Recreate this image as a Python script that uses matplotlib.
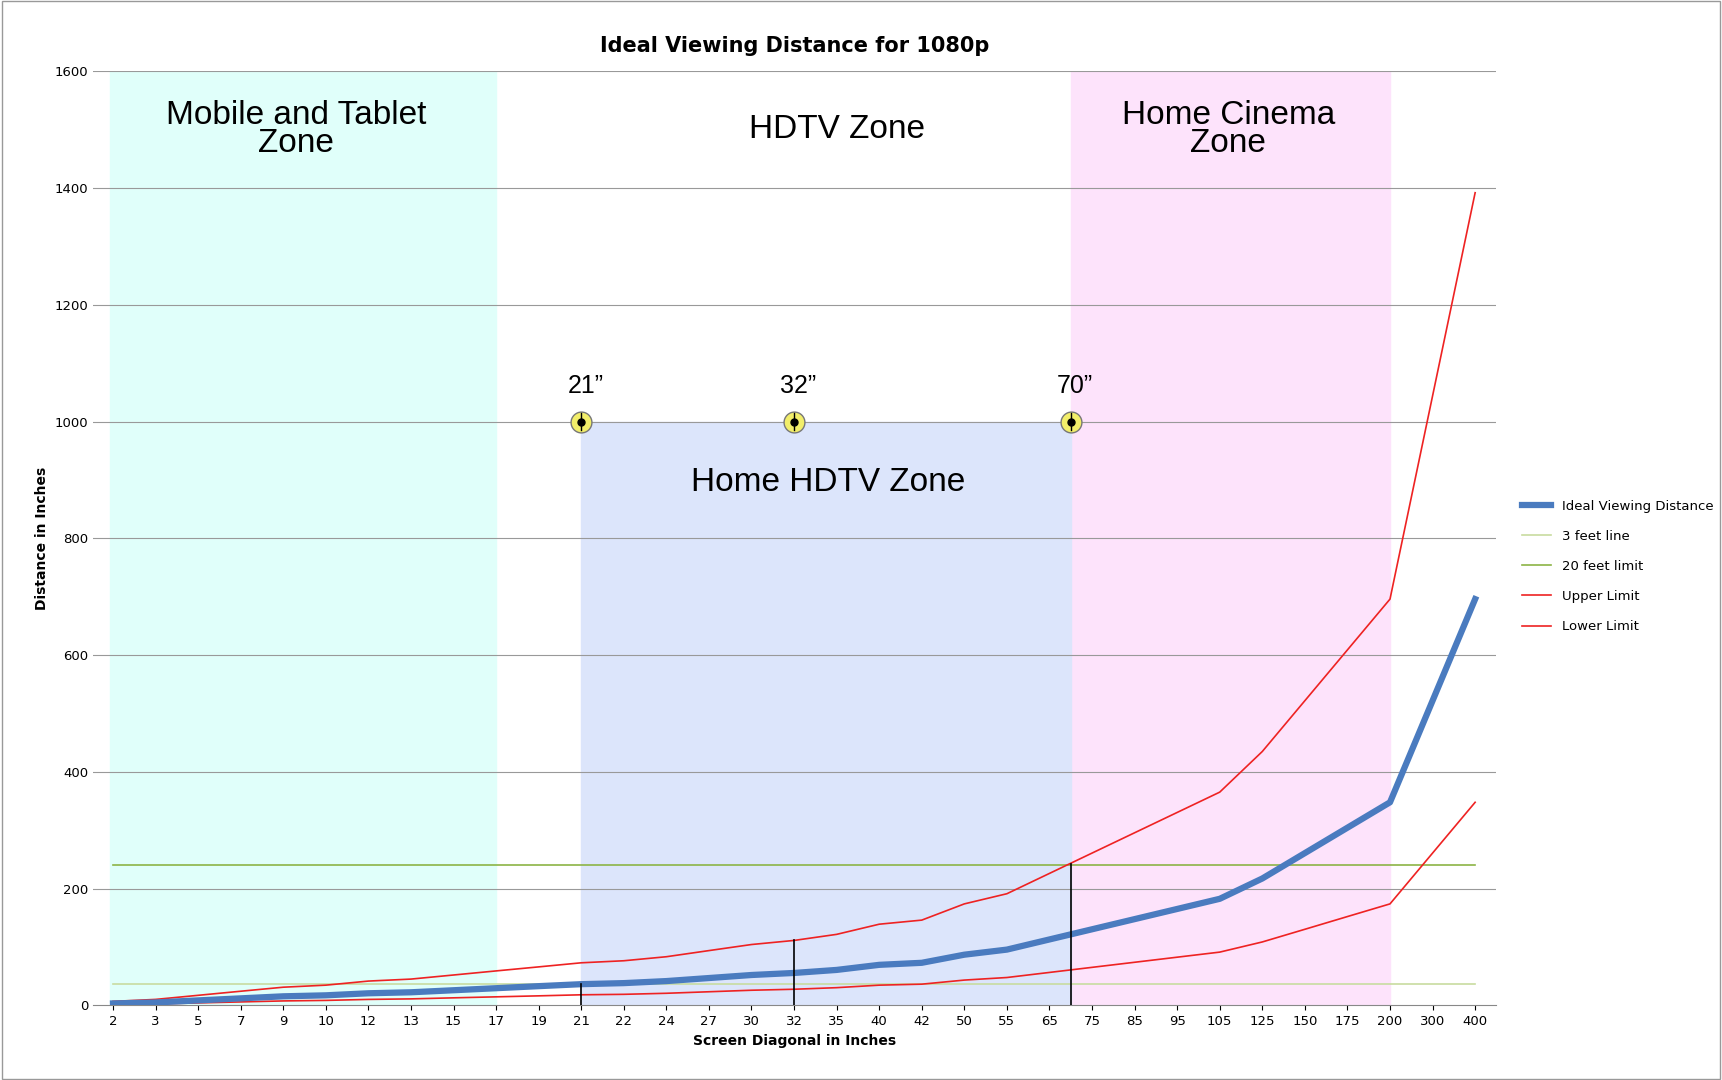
import matplotlib
matplotlib.use("Agg")
import matplotlib.pyplot as plt
import numpy as np

sizes = ["2","3","5","7","9","10","12","13","15","17","19","21","22","24","27","30","32","35","40","42","50","55","65","75","85","95","105","125","150","175","200","300","400"]
ideal = [3.5,5.2,8.7,12.2,15.7,17.4,20.9,22.6,26.1,29.6,33.1,36.5,38.3,41.8,47.0,52.2,55.7,60.9,69.6,73.1,87.0,95.7,113.1,130.5,147.9,165.3,182.7,217.5,261,304.5,348,522,696]
upper = [7,10.4,17.4,24.4,31.3,34.8,41.8,45.2,52.2,59.2,66.1,73.1,76.6,83.5,94,104.4,111.4,121.8,139.2,146.2,174,191.4,226.2,261,295.8,330.6,365.4,435,522,609,696,1044,1392]
lower = [1.7,2.6,4.4,6.1,7.8,8.7,10.4,11.3,13.1,14.8,16.5,18.3,19.1,20.9,23.5,26.1,27.8,30.5,34.8,36.5,43.5,47.9,56.6,65.3,74,82.7,91.4,108.8,130.5,152.3,174,261,348]
three_feet = [36]*len(sizes)
twenty_feet = [240]*len(sizes)

fig = plt.figure(figsize=(17.22,10.8), dpi=100)
fig.patches.append(plt.Rectangle((0.001,0.001),0.998,0.998,transform=fig.transFigure,fill=False,ec="#999999",lw=1))
ax = fig.add_axes([0.054,0.069,0.815,0.865])
x = np.arange(len(sizes))
ax.set_xlim(-0.47,32.5); ax.set_ylim(0,1600)

ax.axvspan(-0.08,9,color="#e0fffa",zorder=0)
ax.axvspan(22.5,30,color="#fde3fb",zorder=0)
ax.fill_between([11,22.5],0,1000,color="#dce5fb",zorder=0.5)
for y in range(200,1601,200):
    ax.axhline(y,color="#999999",lw=0.8,zorder=1)

ax.plot(x,three_feet,color="#c8dca0",lw=1.2,label="3 feet line",zorder=2)
ax.plot(x,twenty_feet,color="#8cb446",lw=1.2,label="20 feet limit",zorder=2)
ax.plot(x,upper,color="#ee2222",lw=1.2,label="Upper Limit",zorder=3)
ax.plot(x,lower,color="#ee2222",lw=1.2,label="Lower Limit",zorder=3)
ax.plot(x,ideal,color="#4a7bbf",lw=4.5,label="Ideal Viewing Distance",zorder=4)

for xi,yt,lab in [(11,36.5,"21\u201d"),(16,111.4,"32\u201d"),(22.5,243,"70\u201d")]:
    ax.plot([xi,xi],[0,yt],color="black",lw=1.2,zorder=5)
    ax.plot(xi,1000,'o',ms=15,mfc="#f2ee6a",mec="#777777",zorder=6)
    ax.plot([xi,xi],[985,1015],color="black",lw=1,zorder=7)
    ax.plot(xi,1000,'o',ms=5,color="black",zorder=8)
    ax.text(xi+0.1,1040,lab,ha="center",va="bottom",fontsize=18,family="Liberation Sans")

fs = 24
ax.text(4.3,1500,"Mobile and Tablet\nZone",ha="center",va="center",fontsize=fs,linespacing=0.9,family="Liberation Sans")
ax.text(17,1500,"HDTV Zone",ha="center",va="center",fontsize=fs,family="Liberation Sans")
ax.text(26.2,1500,"Home Cinema\nZone",ha="center",va="center",fontsize=fs,linespacing=0.9,family="Liberation Sans")
ax.text(16.8,895,"Home HDTV Zone",ha="center",va="center",fontsize=fs,family="Liberation Sans")

ax.set_xticks(x); ax.set_xticklabels(sizes,fontsize=9.5)
ax.set_yticks(range(0,1601,200)); ax.tick_params(labelsize=9.5)
for s in ["top","right","left"]:
    ax.spines[s].set_visible(False)
ax.spines["bottom"].set_color("#888888")
ax.tick_params(axis="y",length=0)
ax.set_xlabel("Screen Diagonal in Inches",fontsize=10,fontweight="bold")
ax.set_ylabel("Distance in Inches",fontsize=10,fontweight="bold")
ax.set_title("Ideal Viewing Distance for 1080p",fontsize=15,fontweight="bold",pad=14)

h,l = ax.get_legend_handles_labels()
order=[4,0,1,2,3]
ax.legend([h[i] for i in order],[l[i] for i in order],loc="center left",bbox_to_anchor=(1.01,0.47),frameon=False,fontsize=9.5,handlelength=2.2,labelspacing=1.3)
fig.savefig("out.png")
